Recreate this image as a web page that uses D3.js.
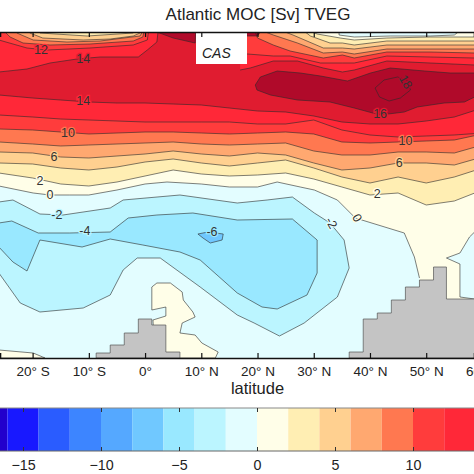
<!DOCTYPE html>
<html>
<head>
<meta charset="utf-8">
<script src="https://cdn.jsdelivr.net/npm/d3@7.9.0/dist/d3.min.js"></script>
<style>
  html, body { margin: 0; padding: 0; background: #fff; overflow: hidden; }
  svg { display: block; font-family: "Liberation Sans", Arial, sans-serif; }
  .contour { fill: none; stroke: #2a2a2a; stroke-width: 0.6; stroke-linejoin: round; }
</style>
</head>
<body>
<svg id="chart" width="474" height="474"></svg>
<script>
// colour levels of the field, also used for the colour bar
const levelBreaks = [-16, -14, -12, -10, -8, -6, -4, -2, 0, 2, 4, 6, 8, 10, 12, 14, 16];
const levelColors = ['#2200cc', '#1818ff', '#2a5cff', '#3d85ff', '#55a8ff', '#70c8ff', '#99e8ff', '#bbf5ff',
  '#e3fdff', '#fffee8', '#ffeeb3', '#ffd090', '#ffa870', '#ff7850', '#ff3c3c', '#ff2838', '#e01c30', '#b00a2a'];
const colorbarTicks = [-15, -10, -5, 0, 5, 10];

const latTicks = [-20, -10, 0, 10, 20, 30, 40, 50, 60];
const latLabels = ['20° S', '10° S', '0°', '10° N', '20° N', '30° N', '40° N', '50° N', '60° N'];

// lower contours, depth in m at each column of lats
const lats = [-26, -20, -15, -10, -5, 0, 5, 10, 15, 20, 25, 30, 35, 40, 45, 50, 55, 60];
const low14 = [630, 660, 680, 700, 710, 710, 720, 730, 760, 790, 800, 840, 900, 920, 920, 890, 850, 760];
const low12 = [830, 850, 870, 880, 890, 900, 900, 900, 900, 920, 920, 880, 980, 1030, 1050, 1040, 1030, 1010];
const low10 = [970, 980, 1000, 1020, 1010, 1000, 1000, 1010, 1020, 1010, 1000, 1020, 1100, 1110, 1100, 1090, 1080, 1020];
const low8 = [1100, 1120, 1140, 1130, 1120, 1110, 1100, 1120, 1130, 1120, 1110, 1190, 1230, 1230, 1200, 1200, 1210, 1130];
const low6 = [1200, 1210, 1250, 1260, 1240, 1220, 1190, 1220, 1240, 1210, 1230, 1310, 1380, 1360, 1310, 1310, 1330, 1250];
const low4 = [1310, 1320, 1360, 1380, 1350, 1300, 1270, 1310, 1340, 1310, 1280, 1360, 1450, 1510, 1450, 1510, 1450, 1360];
const low2 = [1410, 1460, 1520, 1540, 1500, 1440, 1380, 1420, 1440, 1430, 1410, 1470, 1550, 1630, 1610, 1730, 1690, 1580];

// zero line, runs into the topography on the right
const zeroLine = [[-26, 1540], [-19.9, 1610], [-16.9, 1630], [-13.4, 1630], [-10, 1630], [-5, 1580], [0, 1520], [3.9, 1500],
  [10, 1520], [15, 1550], [20, 1550], [23.5, 1500], [27.6, 1550], [30.1, 1580], [34.2, 1680], [37.4, 1860], [46.1, 2010],
  [47.9, 2250], [48.8, 2460]];
const zeroFillEnd = [[48.9, 3260], [62, 3260]];

// upper contours, top left of the box
const up14Left = [[-26, 400], [-21, 370], [-16.9, 310], [-12.1, 270], [-8, 250], [-1.2, 250], [0.4, 180], [2.1, 100], [2.3, 0]];
const up12Left = [[-26, 80], [-21, 160], [-17.4, 180], [-9.8, 160], [-2.1, 130], [0.4, 80], [0.6, 0]];
const up10Left = [[-24.9, 0], [-24, 50], [-21.7, 110], [-16.9, 130], [-9.8, 120], [-2.1, 90], [-0.4, 50], [-0.2, 0]];
const up8Left = [[-22.8, 10], [-19.9, 80], [-13.9, 100], [-8, 90], [-0.9, 40], [-0.5, 0]];
const up6Left = [[-20.5, 10], [-18.2, 60], [-11, 80], [-6.2, 70], [-2.1, 40], [-0.9, 10]];
const up4Left = [[-18.7, 10], [-10.3, 40], [-2.1, 10]];
const top16Left = [[2.1, 0], [5, 60], [8.9, 110], [9, 0]];

// upper contours, right of the box
const up14Right = [[16.9, 380], [18.7, 360], [22.8, 290], [27.1, 290], [31.7, 360], [35.1, 400], [37.2, 380], [43, 290], [50.7, 310], [58.6, 330], [60, 330]];
const up12Right = [[16.9, 220], [18.2, 220], [22.8, 240], [25.8, 240], [31.2, 310], [35.1, 310], [37.2, 310], [43, 240], [50.7, 250], [58.6, 260], [60, 260]];
const up10Right = [[19.6, 0], [20, 60], [22.8, 130], [25.8, 190], [31.7, 260], [35.1, 230], [37.2, 260], [43, 200], [50.7, 200], [58.6, 210], [60, 210]];
const up8Right = [[21.4, 0], [22.8, 30], [27.1, 110], [31.7, 210], [35.1, 200], [37.2, 220], [43, 170], [50.7, 170], [58.6, 170], [60, 170]];
const up6Right = [[24.9, 0], [26.3, 30], [31.7, 160], [35.1, 160], [37.2, 170], [43, 130], [50.7, 130], [60, 130]];
const up4Right = [[28.5, 0], [29.4, 40], [32.9, 110], [35.1, 110], [37.2, 130], [43, 90], [50.7, 90], [60, 90]];
const up2Right = [[29.7, 0], [30.6, 20], [34.7, 60], [37.2, 80], [43, 60], [50.7, 50], [60, 50]];
const topBlob = [[34.5, 0], [34.5, 30], [37.2, 50], [43.6, 40], [50.7, 40], [55, 30], [55.7, 0]];
const top16Right = [[18, 40], [20, 40], [20.5, 0]];

// closed contours
const core16 = [[19.6, 530], [20.5, 450], [23.5, 390], [27.6, 410], [31.2, 440], [36, 490], [40.1, 410], [43.6, 360], [49.7, 390],
  [54.3, 410], [58.6, 410], [60, 410], [60, 630], [58.6, 650], [56.8, 700], [53.2, 710], [48.4, 750], [46.1, 800], [41.8, 830],
  [37.2, 760], [32.9, 700], [27.1, 680], [22.3, 630], [19.9, 580]];
const core18 = [[40.9, 560], [42.5, 480], [44.9, 450], [46.6, 480], [47.2, 580], [45.4, 660], [43.4, 690], [41.7, 650]];
const neg2 = [[-26, 1700], [-23.5, 1680], [-18.7, 1820], [-14.6, 1830], [-6.2, 1760], [-3.9, 1680], [6.2, 1630], [16.4, 1710],
  [21.7, 1680], [26.2, 1650], [30.1, 1810], [32.9, 1910], [35.4, 2080], [36.3, 2360], [34.2, 2650], [28.3, 2910], [23.9, 3040],
  [19.4, 2910], [16.4, 2830], [9.8, 2550], [2.7, 2260], [-1.4, 2260], [-3.9, 2380], [-6.2, 2630], [-11, 2760], [-18.7, 2800],
  [-22.2, 2710], [-26, 2410]];
const neg4 = [[-26, 1910], [-23.7, 1890], [-19, 2010], [-13.4, 2010], [-6.2, 2000], [-3, 1860], [2.1, 1830], [8.5, 1810], [16.4, 1880],
  [26.2, 1870], [30.6, 2080], [30.6, 2410], [28.8, 2630], [23.5, 2770], [20.8, 2750], [16.4, 2610], [9.8, 2280], [6.2, 2200],
  [-0.4, 2130], [-6.2, 2070], [-11.2, 2150], [-18.7, 2080], [-21, 2390], [-23.5, 2300], [-26, 2150]];
const neg6 = [[9.4, 2020], [11.2, 2000], [13.9, 2020], [13.7, 2080], [11.6, 2110], [10.3, 2060]];
const island = [[1.2, 2550], [2.1, 2510], [4.5, 2510], [6.6, 2600], [6.8, 2680], [8.5, 2800], [8.9, 2850], [6.6, 2910], [6.2, 3010],
  [8.9, 3030], [10.1, 3110], [13, 3200], [12.5, 3260], [1.8, 3260], [1.4, 2880], [3.7, 2840], [3.7, 2750], [1.2, 2780]];
const creamCorner = [[-26, 3180], [-19.9, 3210], [-18.2, 3250], [-17.8, 3260], [-26, 3260]];
const pocket = [[60, 2000], [58.6, 2000], [57.7, 2050], [56, 2210], [53.6, 2260], [56, 2320], [56, 2650], [58.6, 2670], [60, 2670]];

// grey topography
const topoLeft = [[-8.7, 3260], [-8.7, 3210], [-6.2, 3210], [-6.2, 3130], [-3.7, 3130], [-3.7, 3010], [-1.2, 3010], [-1.2, 2870],
  [1.2, 2870], [1.2, 2930], [3.7, 2930], [3.7, 3200], [6.2, 3200], [6.2, 3260]];
const topoRight = [[36.3, 3260], [36.3, 3200], [38.8, 3200], [38.8, 2870], [41.3, 2870], [41.3, 2810], [43.8, 2810], [43.8, 2680],
  [46.3, 2680], [46.3, 2550], [48.8, 2550], [48.8, 2480], [51.3, 2480], [51.3, 2350], [53.6, 2350], [53.6, 2670], [60, 2670], [60, 3260]];

// contour labels
const labelText = ['12', '14', '14', '10', '6', '2', '0', '-2', '-4', '-6', '18', '16', '10', '6', '2', '0', '-2'];
const labelLat = [-18.5, -11, -11, -13.7, -16.2, -18.7, -16.9, -15.7, -10.7, 11.9, 46.3, 41.8, 46.3, 45.2, 41.3, 37.7, 33.1];
const labelDepth = [180, 270, 690, 1010, 1250, 1490, 1630, 1830, 1990, 2000, 500, 820, 1090, 1310, 1620, 1860, 1910];
const labelAngle = [0, 0, 0, 0, 0, 0, 0, 0, 0, 0, 60, 0, 0, 0, 0, 60, 60];
const labelBand = [13, 15, 13, 9, 5, 1, 1, -3, -3, -5, 17, 15, 9, 5, 1, 1, -1];

const svg = d3.select('#chart');
const plotTop = 32, plotBottom = 358;

const x = d3.scaleLinear().domain([-25.8, 58.5]).range([0, 474]);
const y = d3.scaleLinear().domain([0, 3260]).range([plotTop, plotBottom]);
const band = d3.scaleThreshold().domain(levelBreaks).range(levelColors);

svg.append('clipPath').attr('id', 'plot-clip').append('rect')
  .attr('x', 0).attr('y', plotTop).attr('width', 474).attr('height', plotBottom - plotTop);

const plot = svg.append('g').attr('clip-path', 'url(#plot-clip)');

const line = d3.line().x(d => x(d[0])).y(d => y(d[1]));
const above = d3.area().x(d => x(d[0])).y0(y(0)).y1(d => y(d[1]));

function withLats(depths) {
  return depths.map((d, i) => [lats[i], d]);
}

// fill everything above a contour, then draw the contour
function fillAbove(points, level, fillPoints) {
  plot.append('path').attr('d', above(fillPoints || points)).attr('fill', band(level));
}
function stroke(points) {
  plot.append('path').attr('class', 'contour').attr('d', line(points));
}
function closedRegion(points, level) {
  plot.append('path').attr('class', 'contour').attr('d', line(points) + 'Z')
    .style('fill', band(level));
}

plot.append('rect').attr('x', 0).attr('y', plotTop).attr('width', 474).attr('height', plotBottom - plotTop)
  .attr('fill', band(-1));

fillAbove(zeroLine, 1, zeroLine.concat(zeroFillEnd));
closedRegion(pocket, -1);
closedRegion(island, 1);
closedRegion(creamCorner, 1);

const lowerLines = [[low2, 3], [low4, 5], [low6, 7], [low8, 9], [low10, 11], [low12, 13], [low14, 15]];
lowerLines.forEach(([depths, level]) => fillAbove(withLats(depths), level));

const upperLines = [
  [up14Left, 13], [up12Left, 11], [up10Left, 9], [up8Left, 7], [up6Left, 5], [up4Left, 3], [top16Left, 17],
  [up14Right, 13], [up12Right, 11], [up10Right, 9], [up8Right, 7], [up6Right, 5], [up4Right, 3], [up2Right, 1], [topBlob, -1], [top16Right, 17]
];
upperLines.forEach(([pts, level]) => fillAbove(pts, level));

// strokes go on after the fills so none of them get covered
stroke(zeroLine);
lowerLines.forEach(([depths]) => stroke(withLats(depths)));
upperLines.forEach(([pts]) => stroke(pts));

closedRegion(core16, 17);
closedRegion(core18, 17);
closedRegion(neg2, -3);
closedRegion(neg4, -5);
closedRegion(neg6, -7);

[topoLeft, topoRight].forEach(pts => {
  plot.append('path').attr('d', line(pts) + 'Z')
    .attr('fill', '#c4c4c4').attr('stroke', '#555').attr('stroke-width', 0.7);
});

// contour labels
labelText.forEach((t, i) => {
  const px = x(labelLat[i]), py = y(labelDepth[i]);
  plot.append('text')
    .attr('transform', `translate(${px},${py}) rotate(${labelAngle[i]})`)
    .attr('text-anchor', 'middle').attr('dominant-baseline', 'central')
    .attr('font-size', 12.5).attr('fill', '#333')
    .attr('stroke', band(labelBand[i])).attr('stroke-width', 2.5)
    .style('paint-order', 'stroke')
    .text(t);
});

// CAS box
svg.append('rect').attr('x', 196).attr('y', plotTop).attr('width', 51).attr('height', 32).attr('fill', '#fff');
svg.append('text').attr('x', 202).attr('y', 58).attr('font-size', 14).attr('font-style', 'italic').attr('fill', '#222').text('CAS');

// axes
const bottomAxis = d3.axisBottom(x).tickValues(latTicks).tickSize(-5).tickPadding(8)
  .tickFormat((d, i) => latLabels[i]);
const bottomG = svg.append('g').attr('transform', `translate(0,${plotBottom})`).call(bottomAxis);
bottomG.selectAll('text').attr('font-size', 13.5).attr('font-family', null).attr('fill', '#222');

const topAxis = d3.axisTop(x).tickValues(latTicks).tickSize(-5).tickFormat('');
const topG = svg.append('g').attr('transform', `translate(0,${plotTop})`).call(topAxis);

[bottomG, topG].forEach(g => {
  g.select('.domain').attr('stroke', '#111').attr('stroke-width', 1.6);
  g.selectAll('line').attr('stroke', '#111').attr('stroke-width', 1.2);
});

svg.append('text').attr('x', 257.5).attr('y', 394).attr('text-anchor', 'middle')
  .attr('font-size', 16.5).attr('fill', '#222').text('latitude');
svg.append('text').attr('x', 258).attr('y', 20).attr('text-anchor', 'middle')
  .attr('font-size', 17).attr('fill', '#222').text('Atlantic MOC [Sv] TVEG');

// colour bar
const cbTop = 408, cbBottom = 451;
const cbX = d3.scaleLinear().domain([0, 10]).range([257, 413]);
const cbEdges = [-18].concat(levelBreaks);
cbEdges.forEach((v, i) => {
  svg.append('rect')
    .attr('x', cbX(v)).attr('y', cbTop)
    .attr('width', cbX(v + 2) - cbX(v)).attr('height', cbBottom - cbTop)
    .attr('fill', levelColors[i]);
});
svg.append('line').attr('x1', 0).attr('x2', 474).attr('y1', cbTop).attr('y2', cbTop).attr('stroke', '#888');
svg.append('line').attr('x1', 0).attr('x2', 474).attr('y1', cbBottom).attr('y2', cbBottom).attr('stroke', '#666');

const cbAxis = d3.axisBottom(cbX).tickValues(colorbarTicks).tickSize(-4).tickPadding(9)
  .tickFormat(d => d < 0 ? '\u2212' + Math.abs(d) : d);
const cbG = svg.append('g').attr('transform', `translate(0,${cbBottom})`).call(cbAxis);
cbG.select('.domain').remove();
cbG.selectAll('line').attr('stroke', '#333');
cbG.selectAll('text').attr('font-size', 14.3).attr('font-family', null).attr('fill', '#222');
svg.append('g').attr('transform', `translate(0,${cbTop})`)
  .call(d3.axisTop(cbX).tickValues(colorbarTicks).tickSize(-4).tickFormat(''))
  .call(g => g.select('.domain').remove())
  .selectAll('line').attr('stroke', '#333');
</script>
</body>
</html>
